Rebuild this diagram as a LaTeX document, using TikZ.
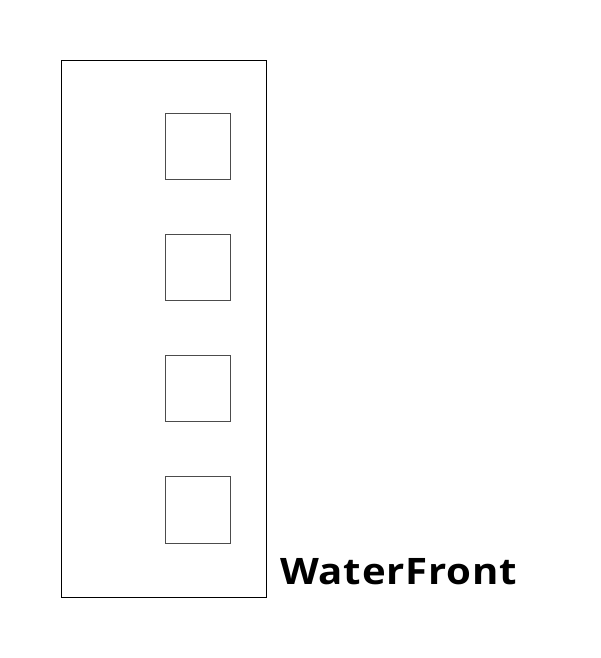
\documentclass[tikz,border=0pt]{standalone}
\usepackage{fontspec}
\setmainfont{Open Sans}[FakeStretch=1.1,LetterSpace=2]
\begin{document}
\begin{tikzpicture}[x=1pt,y=-1pt,
  outer/.style={draw=black,line width=1pt,inner sep=0pt,minimum width=205pt,minimum height=536pt},
  win/.style={draw=black!70,line width=1pt,inner sep=0pt,minimum width=65.5pt,minimum height=66.5pt},
  lab/.style={inner sep=0pt,anchor=base west,font=\fontsize{36.5}{40}\selectfont\bfseries}]
\useasboundingbox (0,0) rectangle (600,658);
\node[outer] (wall) at (163.5,329) {};
\node[win] (w1) at (198.2,146.7) {};
\node[win] (w2) at (198.2,267.7) {};
\node[win] (w3) at (198.2,388.7) {};
\node[win] (w4) at (198.2,510.2) {};
\node[lab] (name) at (280,584.5) {WaterFront};
\end{tikzpicture}
\end{document}
